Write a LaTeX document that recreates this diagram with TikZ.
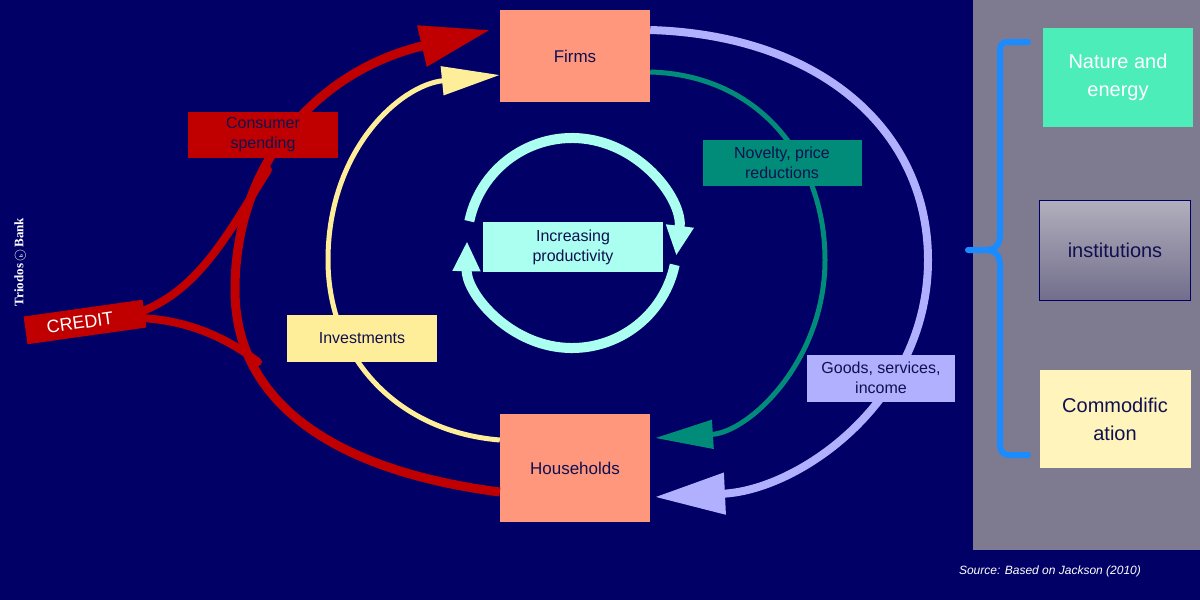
\documentclass[tikz,border=0pt]{standalone}
\usepackage{fontspec}
\setmainfont{Liberation Sans}
\newfontfamily\tbfont{Liberation Serif}
\usetikzlibrary{arrows.meta,calc}
\definecolor{bg}{HTML}{000066}
\definecolor{panel}{HTML}{7E7A90}
\definecolor{salmon}{HTML}{FF977D}
\definecolor{cred}{HTML}{C00000}
\definecolor{yel}{HTML}{FFEE99}
\definecolor{teal}{HTML}{008C78}
\definecolor{lav}{HTML}{B0B0FF}
\definecolor{cyanl}{HTML}{AAFFF0}
\definecolor{mint}{HTML}{4DEDB9}
\definecolor{cream}{HTML}{FFF4BB}
\definecolor{bracec}{HTML}{1A8CFF}
\definecolor{navytxt}{HTML}{101050}
\begin{document}
\begin{tikzpicture}[x=1pt,y=-1pt,
  box/.style={minimum width=#1, align=center, inner sep=0pt, font=\fontsize{17}{20}\selectfont, text=navytxt},
  lbl/.style={font=\fontsize{16}{20}\selectfont},
  big/.style={font=\fontsize{20}{28}\selectfont},
  flow/.style={line width=#1},
]
\useasboundingbox (0,0) rectangle (1200,600);
\fill[bg] (0,0) rectangle (1200,600);
\fill[panel] (973,0) rectangle (1200,550);

% nodes
\node[box=150pt, minimum height=92pt, fill=salmon] (firms) at (575,56) {Firms};
\node[box=150pt, minimum height=108pt, fill=salmon] (hh) at (575,468) {Households};

% red arc
\draw[cred, flow=9pt, -{Triangle[length=70pt,width=40pt]}] (hh.west|-0,492) .. controls (330,470) and (235,400) .. (235,290) .. controls (235,160) and (320,70) .. (490,30);
% yellow
\draw[yel, flow=5pt, -{Triangle[length=58pt,width=28pt]}] (hh.west|-0,440) .. controls (400,432) and (328,360) .. (328,260) .. controls (328,150) and (400,85) .. (firms.west|-0,75);
% green
\draw[teal, flow=5pt, -{Triangle[length=58pt,width=28pt]}] (firms.east|-0,72) .. controls (760,75) and (825,160) .. (825,260) .. controls (825,360) and (750,432) .. (655,438);
% lavender
\draw[lav, flow=8pt, -{Triangle[length=70pt,width=40pt]}] (firms.east|-0,30) .. controls (820,35) and (928,130) .. (928,260) .. controls (928,400) and (800,490) .. (655,497);

% credit
\node[fill=cred, rotate=8, minimum width=120pt, minimum height=28pt, text=white, font=\fontsize{18}{20}\selectfont, inner sep=0pt] (credit) at (85,322) {\hspace*{-10pt}CREDIT};
\draw[cred, line width=8pt, line cap=round] (140,312) .. controls (200,290) and (230,230) .. (268,170);
\draw[cred, line width=8pt, line cap=round] (140,318) .. controls (190,320) and (230,340) .. (258,362);

% labels
\node[box=150pt, minimum height=46pt, fill=cred, lbl] (cs) at (263,135) {Consumer\\spending};
\node[box=159pt, minimum height=46pt, fill=teal, lbl] (nov) at (782,163) {Novelty, price\\reductions};
\node[box=150pt, minimum height=47pt, fill=yel, lbl] (inv) at (362,338) {Investments};
\node[box=148pt, minimum height=47pt, fill=lav, lbl] (gsi) at (881,378) {Goods, services,\\income};

% central circle
\coordinate (cc) at (572,243);
\draw[cyanl, line width=10pt, -{Triangle[length=30pt,width=26pt]}] ($(cc)+(192:105)$) arc (192:367:105);
\draw[cyanl, line width=10pt, -{Triangle[length=30pt,width=26pt]}] ($(cc)+(12:105)$) arc (12:181:105);
\node[box=180pt, minimum height=50pt, fill=cyanl, lbl] (ip) at (573,247) {Increasing\\productivity};

% triodos
\node[rotate=90, text=white, font=\fontsize{13}{14}\selectfont\tbfont\bfseries, inner sep=0pt] (tb) at (20,262) {Triodos\,\textcircled{\tiny b}\,Bank};

% right panel
\node[box=150pt, minimum height=99pt, fill=mint, text=white, big] (nat) at (1118,77) {Nature and\\energy};
\node[box=151pt, minimum height=100pt, draw=bg, top color=panel!60!white, bottom color=panel!90!bg, big] (inst) at (1115,250) {institutions};
\node[box=151pt, minimum height=98pt, fill=cream, big] (com) at (1115,419) {Commodific\\ation};
\coordinate (bt) at (1028,42);
\coordinate (bb) at (1028,455);
\coordinate (bm) at (968,250);
\draw[bracec, line width=6pt, line cap=round] (bt) -- (1010,42) .. controls (1000,42) and (1000,45) .. (1000,55) -- (1000,235) .. controls (1000,245) and (995,250) .. (985,250) -- (bm);
\draw[bracec, line width=6pt, line cap=round] (985,250) .. controls (995,250) and (1000,255) .. (1000,265) -- (1000,443) .. controls (1000,452) and (1003,455) .. (1010,455) -- (bb);

\node[text=white, font=\fontsize{12}{14}\selectfont\itshape, inner sep=0pt] (src) at (1050,571) {Source: Based on Jackson (2010)};
\end{tikzpicture}
\end{document}
